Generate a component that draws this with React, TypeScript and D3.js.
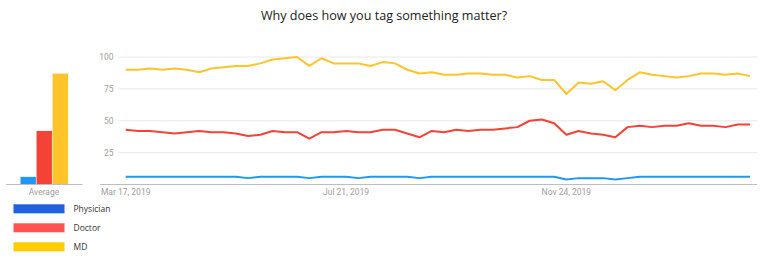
import React from "react";
import * as d3 from "d3";

const seriesNames = ["Physician", "Doctor", "MD"];
const lineColors = ["#2196f3", "#f44336", "#ffc42a"];
const legendColors = ["#1f5fe0", "#ff5252", "#ffcc00"];

const physician = [6, 6, 6, 6, 6, 6, 6, 6, 6, 6, 5, 6, 6, 6, 6, 5, 6, 6, 6, 5, 6, 6, 6, 6, 5, 6, 6, 6, 6, 6, 6, 6, 6, 6, 6, 6, 4, 5, 5, 5, 4, 5, 6, 6, 6, 6, 6, 6, 6, 6, 6, 6];
const doctor = [43, 42, 42, 41, 40, 41, 42, 41, 41, 40, 38, 39, 42, 41, 41, 36, 41, 41, 42, 41, 41, 43, 43, 40, 37, 42, 41, 43, 42, 43, 43, 44, 45, 50, 51, 48, 39, 42, 40, 39, 37, 45, 46, 45, 46, 46, 48, 46, 46, 45, 47, 47];
const md = [90, 90, 91, 90, 91, 90, 88, 91, 92, 93, 93, 95, 98, 99, 100, 93, 99, 95, 95, 95, 93, 96, 95, 90, 87, 88, 86, 86, 87, 87, 86, 86, 84, 85, 82, 82, 71, 80, 79, 81, 74, 82, 88, 86, 85, 84, 85, 87, 87, 86, 87, 85];
const averages = [6, 42, 87];

const yTicks = [25, 50, 75, 100];
const xTickLabels = ["Mar 17, 2019", "Jul 21, 2019", "Nov 24, 2019"];
const xTickWeeks = [0, 18, 36];
const startDate = new Date(2019, 2, 17);

export default function App() {
  const W = 768, H = 259;
  const series = [physician, doctor, md];
  const dates = md.map((_, i) => d3.timeWeek.offset(startDate, i));
  const x = d3.scaleTime().domain([dates[0], dates[dates.length - 1]]).range([125.7, 750]);
  const y = d3.scaleLinear().domain([0, 100]).range([184.5, 57]);
  const band = d3.scaleBand().domain(seriesNames).range([20.5, 68]).paddingInner(0.04);
  const line = d3.line<number>().x((_, i) => x(dates[i])).y((d) => y(d)).curve(d3.curveLinear);

  return (
    <svg width={W} height={H} style={{ position: "absolute", left: 0, top: 0, background: "#fff" }}>
      <rect x={0} y={0} width={W} height={H} fill="#fff" />
      <text x={384} y={20} textAnchor="middle" fontFamily="Open Sans" fontSize={12.6} fill="#222">
        Why does how you tag something matter?
      </text>

      {/* Average bars */}
      {averages.map((v, i) => (
        <rect key={i} x={band(seriesNames[i])} y={y(v)} width={band.bandwidth()} height={y(0) - y(v)} fill={lineColors[i]} />
      ))}
      <line x1={6} x2={82.5} y1={y(0)} y2={y(0)} stroke="#bdbdbd" strokeWidth={1} />
      <text x={44} y={194.5} textAnchor="middle" fontFamily="Roboto" fontSize={8.5} fill="#9e9e9e">Average</text>

      {/* gridlines */}
      {yTicks.map((t) => (
        <g key={t}>
          <line x1={118} x2={757} y1={y(t)} y2={y(t)} stroke="#e8e8e8" strokeWidth={1} />
          <text x={113.5} y={y(t) + 3} textAnchor="end" fontFamily="Roboto" fontSize={8.5} fill="#9e9e9e">{t}</text>
        </g>
      ))}
      <line x1={100} x2={757} y1={y(0)} y2={y(0)} stroke="#bdbdbd" strokeWidth={1} />
      {xTickWeeks.map((w, i) => (
        <text key={i} x={x(dates[w])} y={194.5} textAnchor="middle" fontFamily="Roboto" fontSize={8.5} fill="#9e9e9e">
          {xTickLabels[i]}
        </text>
      ))}

      {series.map((s, i) => (
        <path key={i} d={line(s) || ""} fill="none" stroke={lineColors[i]} strokeWidth={2} strokeLinejoin="round" />
      ))}

      {/* legend */}
      {seriesNames.map((n, i) => (
        <g key={n}>
          <rect x={13.5} y={204.3 + i * 19} width={51} height={9} fill={legendColors[i]} />
          <text x={73.5} y={211.8 + i * 19} fontFamily="Open Sans" fontSize={8.5} fill="#333">{n}</text>
        </g>
      ))}
    </svg>
  );
}
